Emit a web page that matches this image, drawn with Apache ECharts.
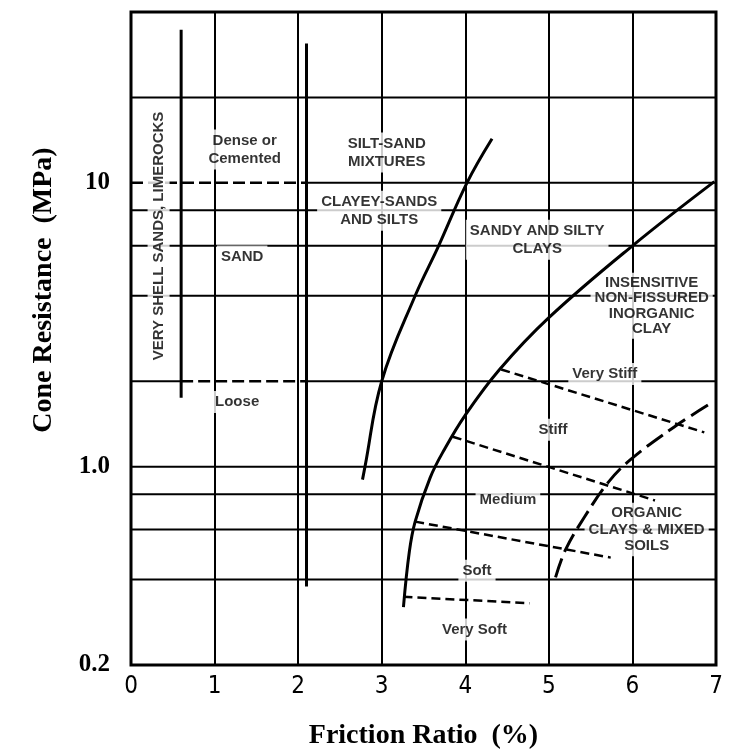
<!DOCTYPE html>
<html><head><meta charset="utf-8">
<script src="https://cdn.jsdelivr.net/npm/echarts@6/dist/echarts.min.js"></script>
<style>html,body{margin:0;padding:0;background:#fff}#c{width:744px;height:755px}</style>
</head><body><div id="c"></div>
<script>
// ---- data ----
const xTickLabels = ['0', '1', '2', '3', '4', '5', '6', '7'];
const yTickValues = [0.2, 1, 10];
const yTickTexts = ['0.2', '1.0', '10'];
const hGridValues = [0.4, 0.6, 0.8, 1, 4, 6, 8, 20];
const grid10Solid = [[2.1, 10], [7, 10]];
const grid10Dashed = [[0, 10], [2.1, 10]];
const grid2SolidLeft = [[0, 2], [0.6, 2]];
const grid2SolidRight = [[2.1, 2], [7, 2]];
const grid2Dashed = [[0.6, 2], [2.1, 2]];
const shellSandLine = [[0.6, 1.75], [0.6, 34.6]];
const sandSiltLine = [[2.1, 0.378], [2.1, 31]];
const siltSandCurve = [[2.77, 0.9], [2.80, 1.0], [3.0, 2.0], [3.40, 4.0], [3.67, 5.9], [4.02, 10], [4.32, 14.3]];
const clayCurve = [[3.26, 0.32], [3.33, 0.5], [3.40, 0.64], [3.58, 0.915], [3.75, 1.15], [4.0, 1.52], [4.41, 2.2], [5.0, 3.35], [6.0, 6.0], [6.98, 10.1]];
const organicCurve = [[5.08, 0.407], [5.2, 0.51], [5.43, 0.667], [5.71, 0.88], [5.98, 1.06], [6.5, 1.38], [6.95, 1.68]];
const veryStiffLine = [[4.43, 2.2], [6.86, 1.32]];
const stiffLine = [[3.85, 1.275], [6.27, 0.76]];
const mediumLine = [[3.40, 0.64], [5.74, 0.478]];
const softLine = [[3.26, 0.348], [4.77, 0.33]];
const zoneTexts = ['VERY SHELL SANDS, LIMEROCKS', 'Dense or\nCemented', 'SAND', 'Loose',
  'SILT-SAND\nMIXTURES', 'CLAYEY-SANDS\nAND SILTS', 'SANDY AND SILTY\nCLAYS',
  'INSENSITIVE\nNON-FISSURED\nINORGANIC\nCLAY', 'Very Stiff', 'Stiff', 'Medium',
  'ORGANIC\nCLAYS & MIXED\nSOILS', 'Soft', 'Very Soft'];
const zoneX = [0.33, 1.36, 1.33, 1.27, 3.06, 2.97, 4.86, 6.23, 5.67, 5.05, 4.51, 6.17, 4.14, 4.11];
const zoneY = [6.5, 13.1, 5.5, 1.69, 12.8, 7.97, 6.3, 3.69, 2.12, 1.35, 0.765, 0.6, 0.43, 0.267];

// ---- build ----
const serif = '"Liberation Serif", "Times New Roman", serif';
const sans = '"Liberation Sans", Arial, sans-serif';
const narrow = '"Liberation Sans Narrow", "DejaVu Sans Condensed", "Liberation Sans", sans-serif';

function line(data, width, type, z) {
  return { type: 'line', data: data, symbol: 'none', silent: true, animation: false,
    lineStyle: { color: '#000', width: width, type: type || 'solid' }, z: z || 2 };
}
const series = [];
hGridValues.forEach(v => series.push(line([[0, v], [7, v]], 2, 'solid', 1)));
series.push(line(grid10Solid, 2, 'solid', 1));
series.push(line(grid10Dashed, 2.5, [12, 5], 1));
series.push(line(grid2SolidLeft, 2, 'solid', 1));
series.push(line(grid2SolidRight, 2, 'solid', 1));
series.push(line(grid2Dashed, 2.5, [12, 5], 1));
series.push(line(shellSandLine, 3, 'solid', 4));
series.push(line(sandSiltLine, 3, 'solid', 4));
const sc = line(siltSandCurve, 3, 'solid', 4); sc.smooth = 0.4; series.push(sc);
const cc = line(clayCurve, 3, 'solid', 4); cc.smooth = 0.4; series.push(cc);
const oc = line(organicCurve, 3, [20, 7], 4); oc.smooth = 0.4; series.push(oc);
[veryStiffLine, stiffLine, mediumLine, softLine].forEach(d => series.push(line(d, 2.5, [9, 5], 4)));

const labelData = zoneTexts.map((t, i) => {
  const item = { value: [zoneX[i], zoneY[i]], name: t };
  const lbl = {};
  if (i === 0) lbl.rotate = 90;
  if (i === 7) lbl.lineHeight = 15.5;
  if (i === 11) lbl.lineHeight = 16.5;
  item.label = lbl;
  return item;
});
series.push({
  type: 'scatter', data: labelData, symbolSize: 0, silent: true, animation: false, z: 3,
  label: { show: true, position: 'inside', formatter: '{b}', color: '#000', fontFamily: sans,
    fontWeight: 'bold', fontSize: 15, lineHeight: 18, align: 'center', textBorderWidth: 0,
    backgroundColor: '#fff', padding: [2, 4] }
});

const chart = echarts.init(document.getElementById('c'), null, { renderer: 'canvas' });
chart.setOption({
  animation: false,
  backgroundColor: '#fff',
  grid: { left: 131, right: 28, top: 12, bottom: 90, show: true, borderColor: '#000', borderWidth: 3, backgroundColor: 'transparent' },
  xAxis: {
    type: 'value', min: 0, max: 7, interval: 1,
    axisLine: { show: false }, axisTick: { show: false },
    splitLine: { show: true, lineStyle: { color: '#000', width: 2 } },
    axisLabel: { formatter: v => xTickLabels[Math.round(v)] || '', fontFamily: narrow, fontSize: 24, color: '#000', margin: 10 },
    name: 'Friction Ratio  (%)', nameLocation: 'middle', nameGap: 57,
    nameTextStyle: { fontFamily: serif, fontWeight: 'bold', fontSize: 28, color: '#000' }
  },
  yAxis: {
    type: 'log', logBase: 10, min: 0.2, max: 40,
    axisLine: { show: false }, axisTick: { show: false }, splitLine: { show: false },
    axisLabel: {
      formatter: v => {
        for (let i = 0; i < yTickValues.length; i++) {
          if (Math.abs(Math.log10(v) - Math.log10(yTickValues[i])) < 1e-6) return yTickTexts[i];
        }
        return '';
      },
      showMinLabel: true,
      fontFamily: serif, fontWeight: 'bold', fontSize: 25, color: '#000', margin: 21, padding: [0, 0, 18, 0]
    }
  },
  graphic: [{
    type: 'text', x: 44, y: 290, rotation: Math.PI / 2, silent: true,
    style: { text: 'Cone Resistance  (MPa)', fontFamily: serif, fontWeight: 'bold', fontSize: 28, fill: '#000', align: 'center', verticalAlign: 'middle' }
  }],
  series: series
});
</script>
</body></html>
